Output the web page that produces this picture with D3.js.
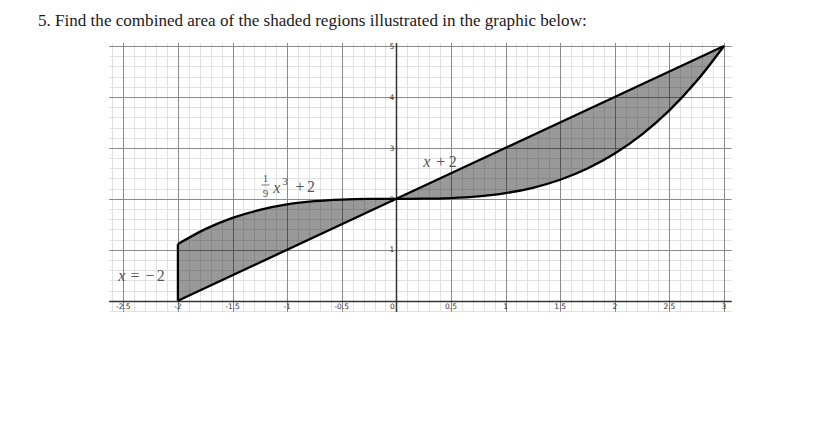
<!DOCTYPE html>
<html>
<head>
<meta charset="utf-8">
<script src="https://cdn.jsdelivr.net/npm/d3@7"></script>
<style>
  body { margin: 0; background: #fff; }
  .math { font-family: "Liberation Serif", "DejaVu Serif", serif; }
</style>
</head>
<body>
<div id="chart"></div>
<script>
// values
const titleText = "5. Find the combined area of the shaded regions illustrated in the graphic below:";
const xTicks = [-2.5, -2, -1.5, -1, -0.5, 0, 0.5, 1, 1.5, 2, 2.5, 3];
const xTickLabels = ["-2.5", "-2", "-1.5", "-1", "-0.5", "0", "0.5", "1", "1.5", "2", "2.5", "3"];
const yTicks = [1, 2, 3, 4, 5];
const yTickLabels = ["1", "2", "3", "4", "5"];

// cubic 1/9 x^3 + 2, sampled
const cubicX = [-2, -1.75, -1.5, -1.25, -1, -0.75, -0.5, -0.25, 0, 0.25, 0.5, 0.75, 1, 1.25, 1.5, 1.75, 2, 2.25, 2.5, 2.75, 3];
const cubicY = [1.111, 1.405, 1.625, 1.783, 1.889, 1.953, 1.986, 1.998, 2, 2.002, 2.014, 2.047, 2.111, 2.217, 2.375, 2.595, 2.889, 3.266, 3.736, 4.311, 5];
// line x + 2
const lineX = [-2, 0, 3];
const lineY = [0, 2, 5];
// vertical line x = -2
const vertX = [-2, -2];
const vertY = [0, 1.111];

const W = 823, H = 445;
const svg = d3.select("#chart").append("svg")
  .attr("width", W).attr("height", H);

const x = d3.scaleLinear().domain([-2.5, 3]).range([123.3, 724]);
const y = d3.scaleLinear().domain([0, 5]).range([300.7, 46]);
const lineScale = d3.scaleLinear().domain(lineX).range(lineY);

// title
const title = svg.append("text")
  .attr("class", "math")
  .attr("x", 38).attr("y", 25.5)
  .attr("font-size", 15)
  .attr("fill", "#1a1a1a")
  .text(titleText);
const tw = title.node().getComputedTextLength();
title.attr("font-size", 15 * 549 / tw);

// grid
const gx0 = -2.63, gx1 = 3.07, gy0 = -0.22, gy1 = 5.06;
const g = svg.append("g");
const minorX = d3.range(-26, 31).map(d => d / 10);
const minorY = d3.range(-1, 26).map(d => d / 5);

g.selectAll(".mx").data(minorX).join("line")
  .attr("x1", d => Math.round(x(d)) + 0.5).attr("x2", d => Math.round(x(d)) + 0.5)
  .attr("y1", y(gy0)).attr("y2", y(gy1))
  .attr("stroke", "#e2e2e2").attr("stroke-width", 1);
g.selectAll(".my").data(minorY).join("line")
  .attr("y1", d => Math.round(y(d)) + 0.5).attr("y2", d => Math.round(y(d)) + 0.5)
  .attr("x1", x(gx0)).attr("x2", x(gx1))
  .attr("stroke", "#e2e2e2").attr("stroke-width", 1);

g.selectAll(".Mx").data(xTicks).join("line")
  .attr("x1", d => Math.round(x(d)) + 0.5).attr("x2", d => Math.round(x(d)) + 0.5)
  .attr("y1", y(gy0)).attr("y2", y(gy1))
  .attr("stroke", "#8a8a8a").attr("stroke-width", 1);
g.selectAll(".My").data([0].concat(yTicks)).join("line")
  .attr("y1", d => Math.round(y(d)) + 0.5).attr("y2", d => Math.round(y(d)) + 0.5)
  .attr("x1", x(gx0)).attr("x2", x(gx1))
  .attr("stroke", "#8a8a8a").attr("stroke-width", 1);

// axes
g.append("line")
  .attr("x1", x(gx0)).attr("x2", x(gx1))
  .attr("y1", Math.round(y(0)) + 0.5).attr("y2", Math.round(y(0)) + 0.5)
  .attr("stroke", "#333").attr("stroke-width", 1.5);
g.append("line")
  .attr("x1", Math.round(x(0)) + 0.5).attr("x2", Math.round(x(0)) + 0.5)
  .attr("y1", y(gy0)).attr("y2", y(gy1))
  .attr("stroke", "#333").attr("stroke-width", 1.5);

// tick labels
svg.append("g").selectAll("text").data(xTicks).join("text")
  .attr("x", d => d === 0 ? x(d) - 4 : x(d))
  .attr("y", 308.5)
  .attr("text-anchor", "middle")
  .attr("font-family", "DejaVu Sans, sans-serif")
  .attr("font-size", 7.5)
  .attr("fill", "#333")
  .text((d, i) => xTickLabels[i]);

svg.append("g").selectAll("text").data(yTicks).join("text")
  .attr("x", x(0) - 2)
  .attr("y", d => y(d) + 2.7)
  .attr("text-anchor", "end")
  .attr("font-family", "DejaVu Sans, sans-serif")
  .attr("font-size", 7.5)
  .attr("fill", "#333")
  .text((d, i) => yTickLabels[i]);

// shaded regions
const cubicPts = cubicX.map((d, i) => [d, cubicY[i]]);
const area = d3.area()
  .x(d => x(d[0]))
  .y0(d => y(lineScale(d[0])))
  .y1(d => y(d[1]))
  .curve(d3.curveMonotoneX);

svg.append("path")
  .datum(cubicPts.filter(d => d[0] <= 0))
  .attr("d", area)
  .attr("fill", "#000").attr("fill-opacity", 0.4);
svg.append("path")
  .datum(cubicPts.filter(d => d[0] >= 0))
  .attr("d", area)
  .attr("fill", "#000").attr("fill-opacity", 0.4);

// curves
const plain = d3.line().x(d => x(d[0])).y(d => y(d[1]));
svg.append("path")
  .datum(cubicPts)
  .attr("d", d3.line().x(d => x(d[0])).y(d => y(d[1])).curve(d3.curveMonotoneX))
  .attr("fill", "none").attr("stroke", "#000").attr("stroke-width", 2.3);
svg.append("path")
  .datum(lineX.map((d, i) => [d, lineY[i]]))
  .attr("d", plain)
  .attr("fill", "none").attr("stroke", "#000").attr("stroke-width", 2.3);
svg.append("path")
  .datum(vertX.map((d, i) => [d, vertY[i]]))
  .attr("d", plain)
  .attr("fill", "none").attr("stroke", "#000").attr("stroke-width", 2.3);

// labels, one glyph at a time (math spacing)
const lab = svg.append("g").attr("class", "math").attr("fill", "#555")
  .attr("text-anchor", "middle");
function glyph(t, cx, by, size, italic) {
  lab.append("text").attr("x", cx).attr("y", by)
    .attr("font-size", size)
    .attr("font-style", italic ? "italic" : "normal")
    .text(t);
}

// 1/9 x^3 + 2
glyph("1", 265.5, 182, 11);
lab.append("line").attr("x1", 261.5).attr("x2", 269.5).attr("y1", 185).attr("y2", 185)
  .attr("stroke", "#555").attr("stroke-width", 0.8);
glyph("9", 265.5, 196.5, 11);
glyph("x", 276.7, 193, 16, true);
glyph("3", 285, 185, 11);
glyph("+", 300, 192, 16);
glyph("2", 311, 192, 16);

// x + 2
glyph("x", 426.7, 166.5, 16, true);
glyph("+", 440.7, 166.5, 16);
glyph("2", 452.7, 166.5, 16);

// x = -2
glyph("x", 121.7, 280.5, 16, true);
glyph("=", 135, 280.5, 16);
glyph("\u2212", 150, 280.5, 16);
glyph("2", 160.7, 280.5, 16);
</script>
</body>
</html>
